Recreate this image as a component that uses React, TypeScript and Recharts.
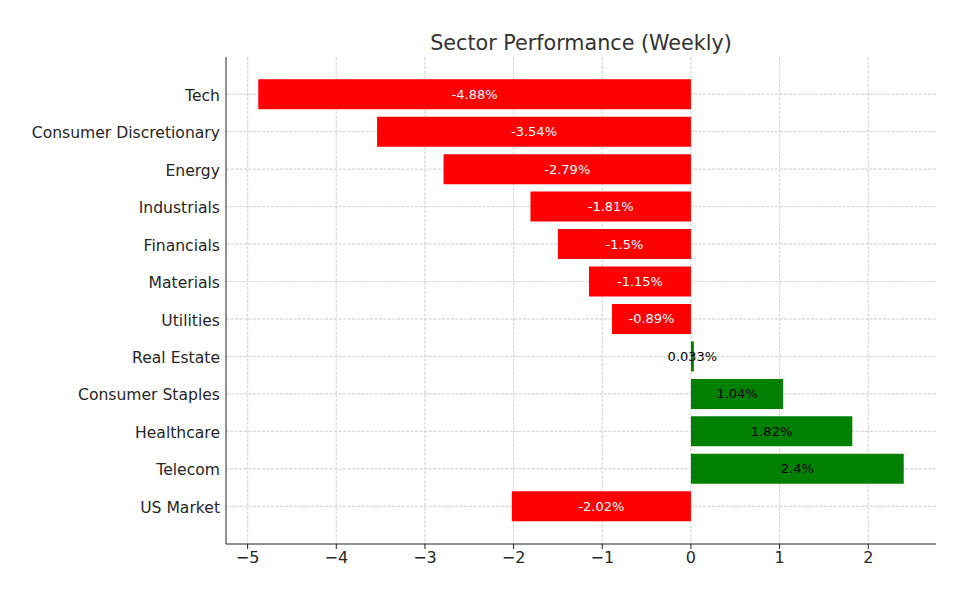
import React from 'react';
import { BarChart, Bar, XAxis, YAxis, CartesianGrid, Cell, LabelList } from 'recharts';

const sectors = [
  'Tech',
  'Consumer Discretionary',
  'Energy',
  'Industrials',
  'Financials',
  'Materials',
  'Utilities',
  'Real Estate',
  'Consumer Staples',
  'Healthcare',
  'Telecom',
  'US Market',
];
const changes = [-4.88, -3.54, -2.79, -1.81, -1.5, -1.15, -0.89, 0.033, 1.04, 1.82, 2.4, -2.02];
const xTicks = [-5, -4, -3, -2, -1, 0, 1, 2];

const rows = sectors.map((name, i) => ({ name, value: changes[i] }));

const FONT = '"DejaVu Sans", sans-serif';
const TEXT = '#262626';

const fmtTick = (v: number) => String(v).replace('-', '\u2212');

const BarLabel = (props: any) => {
  const { x, y, width, height, value } = props;
  const cx = Number(x) + Number(width) / 2;
  const cy = Number(y) + Number(height) / 2;
  return (
    <text
      x={cx}
      y={cy}
      textAnchor="middle"
      dominantBaseline="central"
      fontFamily={FONT}
      fontSize={13}
      fill={value < 0 ? '#ffffff' : '#000000'}
    >
      {`${value}%`}
    </text>
  );
};

export default function App() {
  return (
    <div style={{ position: 'fixed', left: 0, top: 0, width: 969, height: 598, background: '#fff' }}>
      <div
        style={{
          position: 'absolute',
          left: 226,
          width: 710,
          top: 30,
          textAlign: 'center',
          fontFamily: FONT,
          fontSize: 20.7,
          color: '#333333',
          lineHeight: '26px',
        }}
      >
        Sector Performance (Weekly)
      </div>
      <BarChart
        width={969}
        height={598}
        data={rows}
        layout="vertical"
        margin={{ top: 57, right: 33, bottom: 24, left: 0 }}
        barCategoryGap="10%"
      >
        <CartesianGrid stroke="#cccccc" strokeDasharray="3 1.5" strokeWidth={0.8} syncWithTicks />
        <XAxis
          type="number"
          domain={[-5.244, 2.764]}
          ticks={xTicks}
          tickFormatter={fmtTick}
          allowDataOverflow
          height={30}
          tickSize={5}
          tickMargin={3}
          stroke="#222"
          tick={{ fill: TEXT, fontFamily: FONT, fontSize: 16 }}
          tickLine={{ stroke: '#222' }}
        />
        <YAxis
          type="category"
          dataKey="name"
          width={226}
          padding={{ top: 18.5, bottom: 19 }}
          tickSize={6}
          tickMargin={0}
          stroke="#222"
          tick={{ fill: TEXT, fontFamily: FONT, fontSize: 15.6, dy: 1 }}
          tickLine={false}
          interval={0}
        />
        <Bar dataKey="value" isAnimationActive={false}>
          {rows.map((r, i) => (
            <Cell key={i} fill={r.value < 0 ? '#ff0000' : '#008000'} />
          ))}
          <LabelList dataKey="value" content={BarLabel} />
        </Bar>
        <CartesianGrid
          stroke="#d8d8d8"
          strokeOpacity={0.7}
          strokeDasharray="3 1.5"
          strokeWidth={0.8}
          syncWithTicks
        />
      </BarChart>
    </div>
  );
}
